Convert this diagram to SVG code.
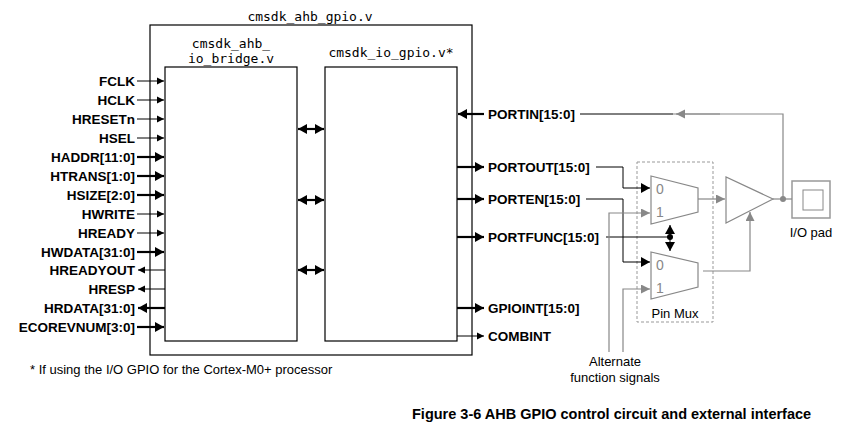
<svg xmlns="http://www.w3.org/2000/svg" width="848" height="431" viewBox="0 0 848 431">
<style>
.m{font-family:"DejaVu Sans Mono",monospace;font-size:13px;fill:#000}
.b{font-family:"Liberation Sans",Arial,sans-serif;font-size:13.5px;font-weight:bold;fill:#000}
.r{font-family:"Liberation Sans",Arial,sans-serif;font-size:13px;fill:#000}
.g{font-family:"Liberation Sans",Arial,sans-serif;font-size:14px;fill:#888}
.box{fill:#fff;stroke:#000;stroke-width:1.2}
.th{stroke:#000;stroke-width:1;fill:none}
.tk{stroke:#000;stroke-width:2.2;fill:none}
.gr{stroke:#888;stroke-width:1.2;fill:none}
</style>
<defs>
<marker id="a" markerWidth="8" markerHeight="8" refX="7" refY="4" orient="auto-start-reverse" markerUnits="userSpaceOnUse"><path d="M0,0.5L7,4L0,7.5z" fill="#000"/></marker>
<marker id="A" markerWidth="10" markerHeight="12" refX="9" refY="5" orient="auto-start-reverse" markerUnits="userSpaceOnUse"><path d="M0,0L9,5L0,10z" fill="#000"/></marker>
<marker id="ga" markerWidth="10" markerHeight="10" refX="9" refY="4.5" orient="auto-start-reverse" markerUnits="userSpaceOnUse"><path d="M0,0L9,4.5L0,9z" fill="#888"/></marker>
</defs>
<g id="outer"><rect class="box" x="150" y="25" width="322" height="330"/><text class="m" x="310" y="21" text-anchor="middle">cmsdk_ahb_gpio.v</text></g>
<g id="bridge"><rect class="box" x="165" y="67" width="132" height="274"/><text class="m" x="231" y="48" text-anchor="middle">cmsdk_ahb_</text><text class="m" x="231" y="63" text-anchor="middle">io_bridge.v</text></g>
<g id="iogpio"><rect class="box" x="325" y="67" width="132" height="274"/><text class="m" x="391" y="57" text-anchor="middle">cmsdk_io_gpio.v*</text></g>
<g id="left-labels" class="b" text-anchor="end">
<text x="135" y="86">FCLK</text><text x="135" y="105">HCLK</text><text x="135" y="124">HRESETn</text><text x="135" y="143">HSEL</text>
<text x="135" y="162">HADDR[11:0]</text><text x="135" y="181">HTRANS[1:0]</text><text x="135" y="200">HSIZE[2:0]</text><text x="135" y="219">HWRITE</text>
<text x="135" y="238">HREADY</text><text x="135" y="257">HWDATA[31:0]</text><text x="135" y="275">HREADYOUT</text><text x="135" y="294">HRESP</text>
<text x="135" y="313">HRDATA[31:0]</text><text x="135" y="332">ECOREVNUM[3:0]</text>
</g>
<g id="right-labels" class="b">
<text x="488" y="119">PORTIN[15:0]</text><text x="488" y="172">PORTOUT[15:0]</text><text x="488" y="204">PORTEN[15:0]</text>
<text x="488" y="242">PORTFUNC[15:0]</text><text x="488" y="313">GPIOINT[15:0]</text><text x="488" y="341">COMBINT</text>
</g>
<g id="pinmux">
<rect x="637" y="162" width="76" height="160" fill="none" stroke="#999" stroke-dasharray="3,2"/>
<path d="M651,176L698,188L698,212L651,224z" fill="#fff" stroke="#888" stroke-width="1.2"/>
<path d="M651,252L698,263L698,287L651,299z" fill="#fff" stroke="#888" stroke-width="1.2"/>
<text class="g" x="656" y="194">0</text><text class="g" x="656" y="217">1</text>
<text class="g" x="656" y="270">0</text><text class="g" x="656" y="293">1</text>
<text class="r" x="675" y="318" text-anchor="middle">Pin Mux</text>
</g>
<g id="buffer"><path d="M726,177L726,223L773,199z" fill="#fff" stroke="#888" stroke-width="1.2"/></g>
<g id="pad"><rect x="792" y="181" width="38" height="37" fill="#fff" stroke="#999" stroke-width="1.5"/><rect x="803" y="190" width="20" height="20" fill="none" stroke="#888"/><text class="r" x="811" y="237" text-anchor="middle">I/O pad</text></g>
<g id="texts">
<text class="r" x="615" y="366" text-anchor="middle">Alternate</text><text class="r" x="615" y="382" text-anchor="middle">function signals</text>
<text class="r" x="30" y="374">* If using the I/O GPIO for the Cortex-M0+ processor</text>
<text class="b" x="412" y="419" style="font-size:14.5px">Figure 3-6 AHB GPIO control circuit and external interface</text>
</g>
<g id="connectors">
<path class="th" marker-end="url(#a)" d="M137,81H164"/><path class="th" marker-end="url(#a)" d="M137,100H164"/>
<path class="th" marker-end="url(#a)" d="M137,119H164"/><path class="th" marker-end="url(#a)" d="M137,138H164"/>
<path class="th" marker-end="url(#a)" d="M137,214H164"/><path class="th" marker-end="url(#a)" d="M137,233H164"/>
<path class="tk" marker-end="url(#A)" d="M137,157H164"/><path class="tk" marker-end="url(#A)" d="M137,176H164"/>
<path class="tk" marker-end="url(#A)" d="M137,195H164"/><path class="tk" marker-end="url(#A)" d="M137,252H164"/>
<path class="tk" marker-end="url(#A)" d="M137,327H164"/>
<path class="th" marker-end="url(#a)" d="M165,270H138"/><path class="th" marker-end="url(#a)" d="M165,289H138"/>
<path class="tk" marker-end="url(#A)" d="M165,308H138"/>
<path class="tk" marker-start="url(#A)" marker-end="url(#A)" d="M298,129H324"/>
<path class="tk" marker-start="url(#A)" marker-end="url(#A)" d="M298,200H324"/>
<path class="tk" marker-start="url(#A)" marker-end="url(#A)" d="M298,270H324"/>
<path class="tk" marker-end="url(#A)" d="M484,114H458"/>
<path class="tk" marker-end="url(#A)" d="M457,167H484"/><path class="tk" marker-end="url(#A)" d="M457,199H484"/>
<path class="tk" marker-end="url(#A)" d="M457,237H484"/><path class="tk" marker-end="url(#A)" d="M457,308H484"/>
<path class="th" marker-end="url(#a)" d="M457,336H484"/>
<path class="th" d="M580,114H673"/>
<path class="gr" d="M783,199V114H673"/>
<path class="gr" marker-end="url(#ga)" d="M720,114H676"/>
<path class="th" marker-end="url(#A)" d="M596,167H623V188H650"/>
<path class="th" marker-end="url(#A)" d="M586,199H623V262H650"/>
<path class="th" d="M606,237H670"/>
<path class="th" marker-start="url(#A)" marker-end="url(#A)" d="M670,225V251"/>
<circle cx="670" cy="237" r="3" fill="#000"/>
<path class="gr" marker-end="url(#ga)" d="M609,352V213H650"/>
<path class="gr" marker-end="url(#ga)" d="M623,352V289H650"/>
<path class="gr" marker-end="url(#ga)" d="M698,199H725"/>
<path class="gr" marker-end="url(#ga)" d="M703,271H750V212"/>
<path class="gr" d="M773,199H792"/>
<circle cx="783" cy="199" r="3" fill="#888"/>
</g>
</svg>
